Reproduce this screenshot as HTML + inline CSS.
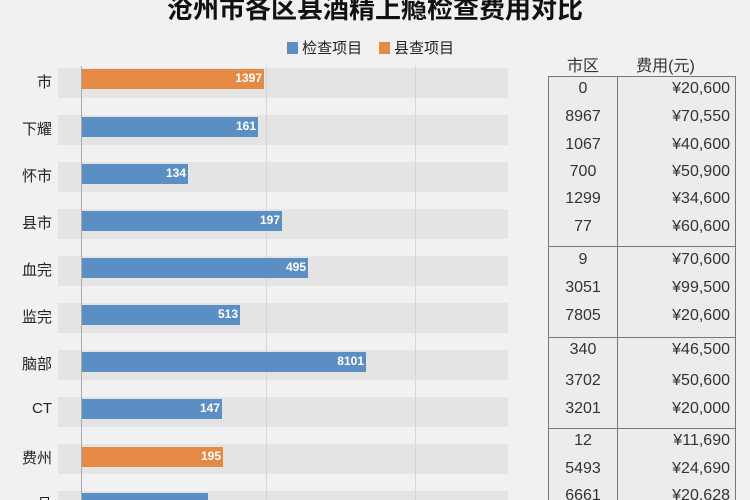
<!DOCTYPE html>
<html style="overflow:hidden;width:750px;height:500px"><head><meta charset="utf-8"><style>
html,body{margin:0;width:750px;height:500px;overflow:hidden}
body{background:#f1f1f1;position:relative;font-family:"Liberation Sans","Noto Sans CJK SC",sans-serif;color:#222}
.a{position:absolute}
.band{position:absolute;left:58px;width:450px;height:30px;background:#e4e4e4}
.bar{position:absolute;left:82px;height:20px;background:#5b8fc4}
.bar.o{background:#e58a45}
.bar span{position:absolute;right:2px;top:2px;color:#fff;font-size:12px;font-weight:bold}
.lab{position:absolute;width:52px;text-align:right;font-size:15px;left:0}
.c1{position:absolute;left:548px;width:70px;text-align:center;font-size:16px;color:#333}
.c2{position:absolute;left:618px;width:112px;text-align:right;font-size:16px;color:#333}
.hl{position:absolute;left:548px;width:187px;height:1px;background:#777}
#wrap{position:absolute;left:0;top:0;width:750px;height:500px;overflow:hidden}
</style></head><body><div id="wrap">
<div class="a" style="left:0;width:750px;top:-11px;text-align:center;font-size:26px;font-weight:bold;color:#111">沧州市各区县酒精上瘾检查费用对比</div>
<div class="a" style="left:287px;top:37px;font-size:15px"><span style="display:inline-block;width:11px;height:12px;background:#5b8fc4;vertical-align:-1px"></span> 检查项目 &nbsp;&nbsp;&nbsp;<span style="display:inline-block;width:11px;height:12px;background:#e58a45;vertical-align:-1px"></span> 县查项目</div>
<div class="band" style="top:68px"></div><div class="band" style="top:115px"></div><div class="band" style="top:162px"></div><div class="band" style="top:209px"></div><div class="band" style="top:256px"></div><div class="band" style="top:303px"></div><div class="band" style="top:350px"></div><div class="band" style="top:397px"></div><div class="band" style="top:444px"></div><div class="band" style="top:491px;height:9px"></div>
<div class="a" style="left:81px;top:66px;width:1px;height:434px;background:#aaa"></div>
<div class="a" style="left:266px;top:66px;width:1px;height:434px;background:#d6d6d6"></div>
<div class="a" style="left:415px;top:66px;width:1px;height:434px;background:#d6d6d6"></div>
<div class="bar o" style="top:69px;width:182px"><span>1397</span></div>
<div class="bar" style="top:117px;width:176px"><span>161</span></div>
<div class="bar" style="top:164px;width:106px"><span>134</span></div>
<div class="bar" style="top:211px;width:200px"><span>197</span></div>
<div class="bar" style="top:258px;width:226px"><span>495</span></div>
<div class="bar" style="top:305px;width:158px"><span>513</span></div>
<div class="bar" style="top:352px;width:284px"><span>8101</span></div>
<div class="bar" style="top:399px;width:140px"><span>147</span></div>
<div class="bar o" style="top:447px;width:141px"><span>195</span></div>
<div class="bar" style="top:493px;width:126px;height:7px"></div>
<div class="lab" style="top:71px">市</div><div class="lab" style="top:118px">下耀</div><div class="lab" style="top:165px">怀市</div><div class="lab" style="top:212px">县市</div><div class="lab" style="top:259px">血完</div><div class="lab" style="top:306px">监完</div><div class="lab" style="top:353px">脑部</div><div class="lab" style="top:400px">CT</div><div class="lab" style="top:447px">费州</div><div class="lab" style="top:493px">县</div>
<div class="c1" style="top:52px">市区</div><div class="c2" style="top:52px;left:618px;width:95px;text-align:center">费用(元)</div>
<div class="a" style="left:548px;top:76px;width:186px;height:430px;border:1px solid #777;border-bottom:none;background:#ececec"></div>
<div class="a" style="left:617px;top:76px;width:1px;height:424px;background:#777"></div>
<div class="hl" style="top:246px"></div><div class="hl" style="top:337px"></div><div class="hl" style="top:428px"></div>
<div class="c1" style="top:80px">0</div><div class="c2" style="top:80px">¥20,600</div>
<div class="c1" style="top:108px">8967</div><div class="c2" style="top:108px">¥70,550</div>
<div class="c1" style="top:136px">1067</div><div class="c2" style="top:136px">¥40,600</div>
<div class="c1" style="top:163px">700</div><div class="c2" style="top:163px">¥50,900</div>
<div class="c1" style="top:190px">1299</div><div class="c2" style="top:190px">¥34,600</div>
<div class="c1" style="top:218px">77</div><div class="c2" style="top:218px">¥60,600</div>
<div class="c1" style="top:251px">9</div><div class="c2" style="top:251px">¥70,600</div>
<div class="c1" style="top:279px">3051</div><div class="c2" style="top:279px">¥99,500</div>
<div class="c1" style="top:307px">7805</div><div class="c2" style="top:307px">¥20,600</div>
<div class="c1" style="top:341px">340</div><div class="c2" style="top:341px">¥46,500</div>
<div class="c1" style="top:372px">3702</div><div class="c2" style="top:372px">¥50,600</div>
<div class="c1" style="top:400px">3201</div><div class="c2" style="top:400px">¥20,000</div>
<div class="c1" style="top:432px">12</div><div class="c2" style="top:432px">¥11,690</div>
<div class="c1" style="top:460px">5493</div><div class="c2" style="top:460px">¥24,690</div>
<div class="c1" style="top:487px">6661</div><div class="c2" style="top:487px">¥20,628</div>
</div></body></html>
